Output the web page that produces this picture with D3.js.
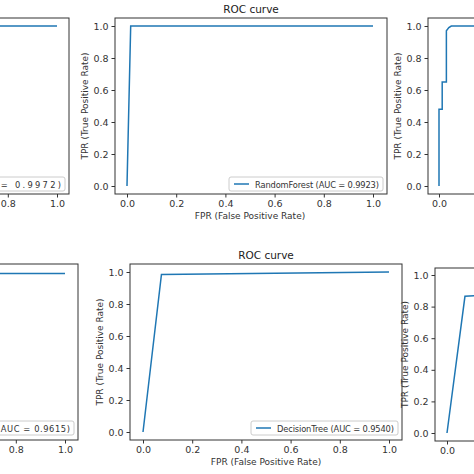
<!DOCTYPE html>
<html><head><meta charset="utf-8">
<script src="https://cdn.jsdelivr.net/npm/d3@7"></script>
<style>body{margin:0;background:#fff}svg{display:block;font-family:"DejaVu Sans",sans-serif}</style>
</head><body><svg id="chart" width="474" height="474"></svg>
<script>
const TICKS = [0, 0.2, 0.4, 0.6, 0.8, 1.0];
const LEFT_TOP_FPR = [0, 0, 0.005, 1];
const LEFT_TOP_TPR = [0, 0.99, 1, 1];
const RF_FPR = [0, 0.015, 1];
const RF_TPR = [0, 1, 1];
const RIGHT_TOP_FPR = [0, 0, 0.013, 0.013, 0.03, 0.03, 0.04, 0.05, 1];
const RIGHT_TOP_TPR = [0, 0.48, 0.48, 0.65, 0.65, 0.97, 0.99, 1, 1];
const LEFT_BOT_FPR = [0, 0.04, 1];
const LEFT_BOT_TPR = [0, 0.99, 0.99];
const DT_FPR = [0, 0.075, 1];
const DT_TPR = [0, 0.985, 1];
const RIGHT_BOT_FPR = [0, 0.073, 0.12, 1];
const RIGHT_BOT_TPR = [0, 0.865, 0.87, 1];

const panels = [
  {ox: -189, x1: 57, y1: 26, y0: 186, fl: -201, fr: 69, ft: 18, fb: 194, fpr: LEFT_TOP_FPR, tpr: LEFT_TOP_TPR, label: "SVM (AUC = 0.9972)", leg: [-90, 177, 155]},
  {ox: 127, x1: 373, y1: 26, y0: 186, fl: 115, fr: 387, ft: 18, fb: 194, fpr: RF_FPR, tpr: RF_TPR, label: "RandomForest (AUC = 0.9923)", leg: [229, 177, 154], title: true},
  {ox: 439, x1: 685, y1: 26, y0: 186, fl: 428, fr: 700, ft: 18, fb: 194, fpr: RIGHT_TOP_FPR, tpr: RIGHT_TOP_TPR},
  {ox: -181, x1: 65, y1: 272, y0: 432, fl: -193, fr: 78, ft: 264, fb: 440, fpr: LEFT_BOT_FPR, tpr: LEFT_BOT_TPR, label: "Ada (AUC = 0.9615)", leg: [-50, 421, 124]},
  {ox: 143, x1: 389, y1: 272, y0: 432, fl: 130, fr: 402, ft: 264, fb: 440, fpr: DT_FPR, tpr: DT_TPR, label: "DecisionTree (AUC = 0.9540)", leg: [251, 421, 147], title: true},
  {ox: 447, x1: 693, y1: 275, y0: 433, fl: 435, fr: 707, ft: 268, fb: 441, fpr: RIGHT_BOT_FPR, tpr: RIGHT_BOT_TPR}
];
const col = "#1f77b4", ink = "#333";
const svg = d3.select("#chart");

panels.forEach(function(p) {
  const x = d3.scaleLinear().domain([0, 1]).range([p.ox, p.x1]);
  const y = d3.scaleLinear().domain([0, 1]).range([p.y0, p.y1]);
  const g = svg.append("g");
  g.append("rect").attr("x", p.fl).attr("y", p.ft).attr("width", p.fr - p.fl).attr("height", p.fb - p.ft)
    .attr("fill", "none").attr("stroke", ink).attr("stroke-width", 1);
  const xa = g.append("g").attr("transform", "translate(0," + p.fb + ")")
    .call(d3.axisBottom(x).tickValues(TICKS).tickFormat(d3.format(".1f")).tickSize(3.5));
  const ya = g.append("g").attr("transform", "translate(" + p.fl + ",0)")
    .call(d3.axisLeft(y).tickValues(TICKS).tickFormat(d3.format(".1f")).tickSize(3.5));
  [xa, ya].forEach(function(a) {
    a.select(".domain").remove();
    a.selectAll("line").attr("stroke", ink);
    a.selectAll("text").attr("fill", ink).attr("font-size", 9.5).attr("font-family", "DejaVu Sans");
  });
  g.append("text").attr("x", (p.ox + p.x1) / 2).attr("y", p.fb + 25).attr("text-anchor", "middle")
    .attr("font-size", 9).attr("fill", ink).text("FPR (False Positive Rate)");
  g.append("text").attr("transform", "translate(" + (p.fl - 27) + "," + ((p.ft + p.fb) / 2) + ") rotate(-90)")
    .attr("text-anchor", "middle").attr("font-size", 9).attr("fill", ink).text("TPR (True Positive Rate)");
  if (p.title) g.append("text").attr("x", (p.fl + p.fr) / 2).attr("y", p.ft - 5).attr("text-anchor", "middle")
    .attr("font-size", 10.5).attr("fill", "#222").text("ROC curve");
  const line = d3.line().x(function(d) { return x(d[0]); }).y(function(d) { return y(d[1]); });
  const clip = "c" + p.fl + "_" + p.ft;
  g.append("clipPath").attr("id", clip).append("rect").attr("x", p.fl).attr("y", p.ft).attr("width", p.fr - p.fl).attr("height", p.fb - p.ft);
  g.append("path").attr("clip-path", "url(#" + clip + ")").datum(d3.zip(p.fpr, p.tpr)).attr("d", line)
    .attr("fill", "none").attr("stroke", col).attr("stroke-width", 1.5);
  if (p.label) {
    const L = p.leg;
    g.append("rect").attr("x", L[0]).attr("y", L[1]).attr("width", L[2]).attr("height", 14).attr("rx", 2)
      .attr("fill", "#fff").attr("stroke", "#ccc");
    g.append("line").attr("x1", L[0] + 5).attr("x2", L[0] + 20).attr("y1", L[1] + 7).attr("y2", L[1] + 7)
      .attr("stroke", col).attr("stroke-width", 1.5);
    g.append("text").attr("x", L[2] + L[0] - 4).attr("y", L[1] + 10.5).attr("text-anchor", "end")
      .attr("font-size", 8.3).attr("textLength", L[2] - 30).attr("fill", ink).text(p.label);
  }
});
</script></body></html>
